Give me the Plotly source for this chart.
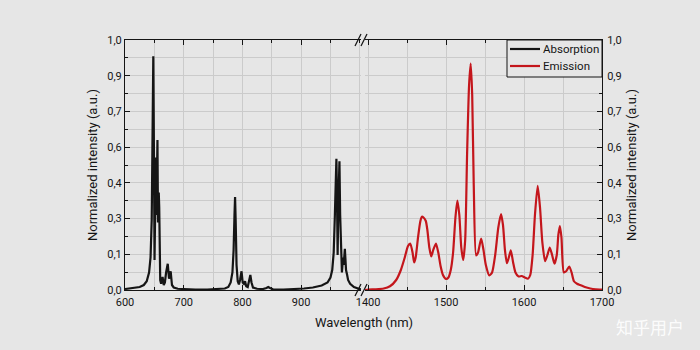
import plotly.graph_objects as go

# Absorption spectrum (nm, normalized intensity)
abs_wl = [600, 615, 625, 632, 637, 641, 643.5, 645.5, 647, 648.2, 649.3, 650.3, 651.3, 652.5,
          653.5, 654.5, 655.3, 656.2, 657.5, 658.3, 659, 660, 661.5, 664, 666, 668, 670,
          672.8, 675, 677.8, 680, 683, 690, 700, 720, 740, 760, 770, 776, 780, 783, 785,
          786.5, 787.5, 788.5, 790, 792, 794, 796, 798.5, 800.5, 802.5, 804.5, 806.5, 809,
          811, 813.5, 815.5, 818, 825, 835, 841, 844, 847, 852, 870, 890, 905, 920, 935,
          945, 950, 953, 955.5, 957.5, 959, 960.1, 961, 962.2, 963.5, 965.3, 966.5, 968,
          969.5, 971.5, 972.5, 974.5, 976.5, 978.4, 980, 983.5, 990, 998, 1002]
abs_int = [0.004, 0.007, 0.012, 0.02, 0.035, 0.07, 0.13, 0.28, 0.6, 0.935, 0.55, 0.12, 0.3, 0.53,
           0.3, 0.45, 0.60, 0.27, 0.39, 0.33, 0.12, 0.04, 0.025, 0.052, 0.02, 0.03, 0.07,
           0.105, 0.045, 0.075, 0.02, 0.01, 0.005, 0.003, 0.002, 0.002, 0.003, 0.006, 0.012,
           0.03, 0.07, 0.16, 0.3, 0.372, 0.28, 0.1, 0.035, 0.022, 0.04, 0.075, 0.03, 0.025,
           0.035, 0.015, 0.012, 0.03, 0.06, 0.03, 0.01, 0.005, 0.004, 0.008, 0.012, 0.008,
           0.003, 0.002, 0.003, 0.006, 0.01, 0.018, 0.03, 0.05, 0.08, 0.15, 0.3, 0.45, 0.525,
           0.40, 0.14, 0.35, 0.515, 0.3, 0.1, 0.07, 0.13, 0.1, 0.165, 0.08, 0.06, 0.04,
           0.025, 0.012, 0.005, 0.003]

# Emission spectrum (nm, normalized intensity)
em_wl = [1396, 1400, 1410, 1420, 1428, 1436, 1442, 1447, 1451, 1454, 1457, 1459, 1461, 1464,
         1467, 1469, 1471, 1474, 1476, 1478.5, 1481, 1483.5, 1487, 1490, 1493, 1496, 1500,
         1503, 1506, 1509, 1512, 1514.5, 1517, 1519.5, 1522, 1524.5, 1527, 1529.5, 1531.6,
         1533.5, 1535.5, 1538.5, 1541, 1545, 1548, 1551, 1555.5, 1559, 1563, 1567, 1570.5,
         1573, 1575.5, 1578, 1580.5, 1583, 1586, 1589, 1593, 1597, 1601, 1605, 1608, 1611,
         1614, 1617.5, 1620.5, 1623.5, 1627, 1630, 1633, 1636, 1639, 1642, 1644, 1646, 1648,
         1651, 1654, 1658, 1661, 1664, 1668, 1672, 1678, 1685, 1692, 1700]
em_int = [0.0, 0.002, 0.003, 0.006, 0.015, 0.04, 0.08, 0.13, 0.175, 0.186, 0.15, 0.11, 0.13,
          0.21, 0.275, 0.293, 0.29, 0.276, 0.24, 0.17, 0.134, 0.16, 0.186, 0.15, 0.095, 0.06,
          0.044, 0.05, 0.08, 0.15, 0.29, 0.358, 0.30, 0.17, 0.12, 0.20, 0.55, 0.82, 0.906,
          0.78, 0.42, 0.138, 0.15, 0.206, 0.16, 0.10, 0.058, 0.07, 0.14, 0.25, 0.304, 0.26,
          0.16, 0.107, 0.13, 0.159, 0.11, 0.07, 0.054, 0.056, 0.05, 0.045, 0.06, 0.14, 0.30,
          0.417, 0.33, 0.19, 0.115, 0.14, 0.17, 0.14, 0.105, 0.14, 0.22, 0.256, 0.21, 0.071,
          0.075, 0.094, 0.07, 0.035, 0.025, 0.02, 0.012, 0.006, 0.003, 0.002]

series_names = ["Absorption", "Emission"]
x_ticks_left = [600, 700, 800, 900]
x_ticks_right = [1400, 1500, 1600, 1700]
y_tick_labels = ["0,0", "0,1", "0,3", "0,4", "0,6", "0,7", "0,9", "1,0"]
y_tick_vals = [i / 7 for i in range(8)]

BG = "#e6e6e6"
GRID = "#cbcbcb"
INK = "#151515"
RED = "#c4161c"
FONT = "Roboto"

# plot area in pixels
W, H = 700, 350
ML, MR, MT, MB = 125, 98, 40, 60
PW, PH = W - ML - MR, H - MT - MB


def px(xp):
    return (xp - ML) / PW


def py(yp):
    return (H - MB - yp) / PH


fig = go.Figure()
fig.add_trace(go.Scatter(x=abs_wl, y=abs_int, name=series_names[0], mode="lines",
                         line=dict(color=INK, width=2.2), xaxis="x", yaxis="y"))
fig.add_trace(go.Scatter(x=em_wl, y=em_int, name=series_names[1], mode="lines",
                         line=dict(color=RED, width=2.2, shape="spline", smoothing=0.6),
                         xaxis="x2", yaxis="y2"))

common = dict(showline=True, linecolor=INK, linewidth=1, ticks="inside", ticklen=5,
              tickcolor=INK, showgrid=True, gridcolor=GRID, gridwidth=1, zeroline=False,
              tickfont=dict(size=11, color=INK, family=FONT))
ytitle = dict(text="Normalized intensity (a.u.)", font=dict(size=13, family=FONT, color=INK),
              standoff=6)
yminor = dict(dtick=1 / 14, tick0=0, ticks="inside", ticklen=3, tickcolor=INK,
              showgrid=True, gridcolor=GRID)

fig.update_layout(
    width=W, height=H,
    margin=dict(l=ML, r=MR, t=MT, b=MB),
    paper_bgcolor=BG, plot_bgcolor=BG,
    font=dict(family=FONT, color=INK),
    showlegend=False,
    xaxis=dict(domain=[0, px(361)], range=[600, 1002], tickmode="array",
               tickvals=x_ticks_left, mirror="ticks", anchor="y", ticklabelstandoff=2,
               minor=dict(dtick=50, tick0=600, ticks="inside", ticklen=3, tickcolor=INK,
                          showgrid=True, gridcolor=GRID),
               **common),
    xaxis2=dict(domain=[px(365), 1], range=[1396, 1700], tickmode="array",
                tickvals=x_ticks_right, mirror="ticks", anchor="y2", ticklabelstandoff=2,
                minor=dict(dtick=50, tick0=1400, ticks="inside", ticklen=3, tickcolor=INK,
                           showgrid=True, gridcolor=GRID),
                **common),
    yaxis=dict(range=[0, 1], tickmode="array", tickvals=y_tick_vals, ticktext=y_tick_labels,
               anchor="x", side="left", title=ytitle, minor=yminor, **common),
    yaxis2=dict(range=[0, 1], tickmode="array", tickvals=y_tick_vals, ticktext=y_tick_labels,
                overlaying="y", anchor="x2", side="right", title=ytitle, minor=yminor,
                ticklabelstandoff=2, **common),
)

# x-axis title centred under both segments
fig.add_annotation(text="Wavelength (nm)", xref="paper", yref="paper", x=0.5, y=py(322),
                   showarrow=False, font=dict(size=13, color=INK, family=FONT),
                   xanchor="center", yanchor="middle")

# axis-break slashes on bottom and top axes
for ybase in (290, 40):
    for xc in (358, 364):
        fig.add_shape(type="line", xref="paper", yref="paper",
                      x0=px(xc - 3), y0=py(ybase + 6), x1=px(xc + 3), y1=py(ybase - 6),
                      line=dict(color=INK, width=1.2))

# legend box in the upper-right corner
fig.add_shape(type="rect", xref="paper", yref="paper", x0=px(507), x1=1, y0=py(77), y1=1,
              line=dict(color=INK, width=1), fillcolor=BG, layer="above")
for name, color, yrow in zip(series_names, (INK, RED), (49, 66)):
    fig.add_shape(type="line", xref="paper", yref="paper", x0=px(510), x1=px(540),
                  y0=py(yrow), y1=py(yrow), line=dict(color=color, width=2.2), layer="above")
    fig.add_annotation(text=name, xref="paper", yref="paper", x=px(541), y=py(yrow),
                       xanchor="left", yanchor="middle", showarrow=False,
                       font=dict(size=11.5, color=INK, family=FONT))

# watermark
fig.add_annotation(text="知乎用户", xref="paper", yref="paper", x=px(650), y=py(326),
                   showarrow=False, xanchor="center", yanchor="middle",
                   font=dict(size=17, color="rgba(255,255,255,0.9)", family="Noto Sans CJK SC"))

fig.write_html("out.html")
